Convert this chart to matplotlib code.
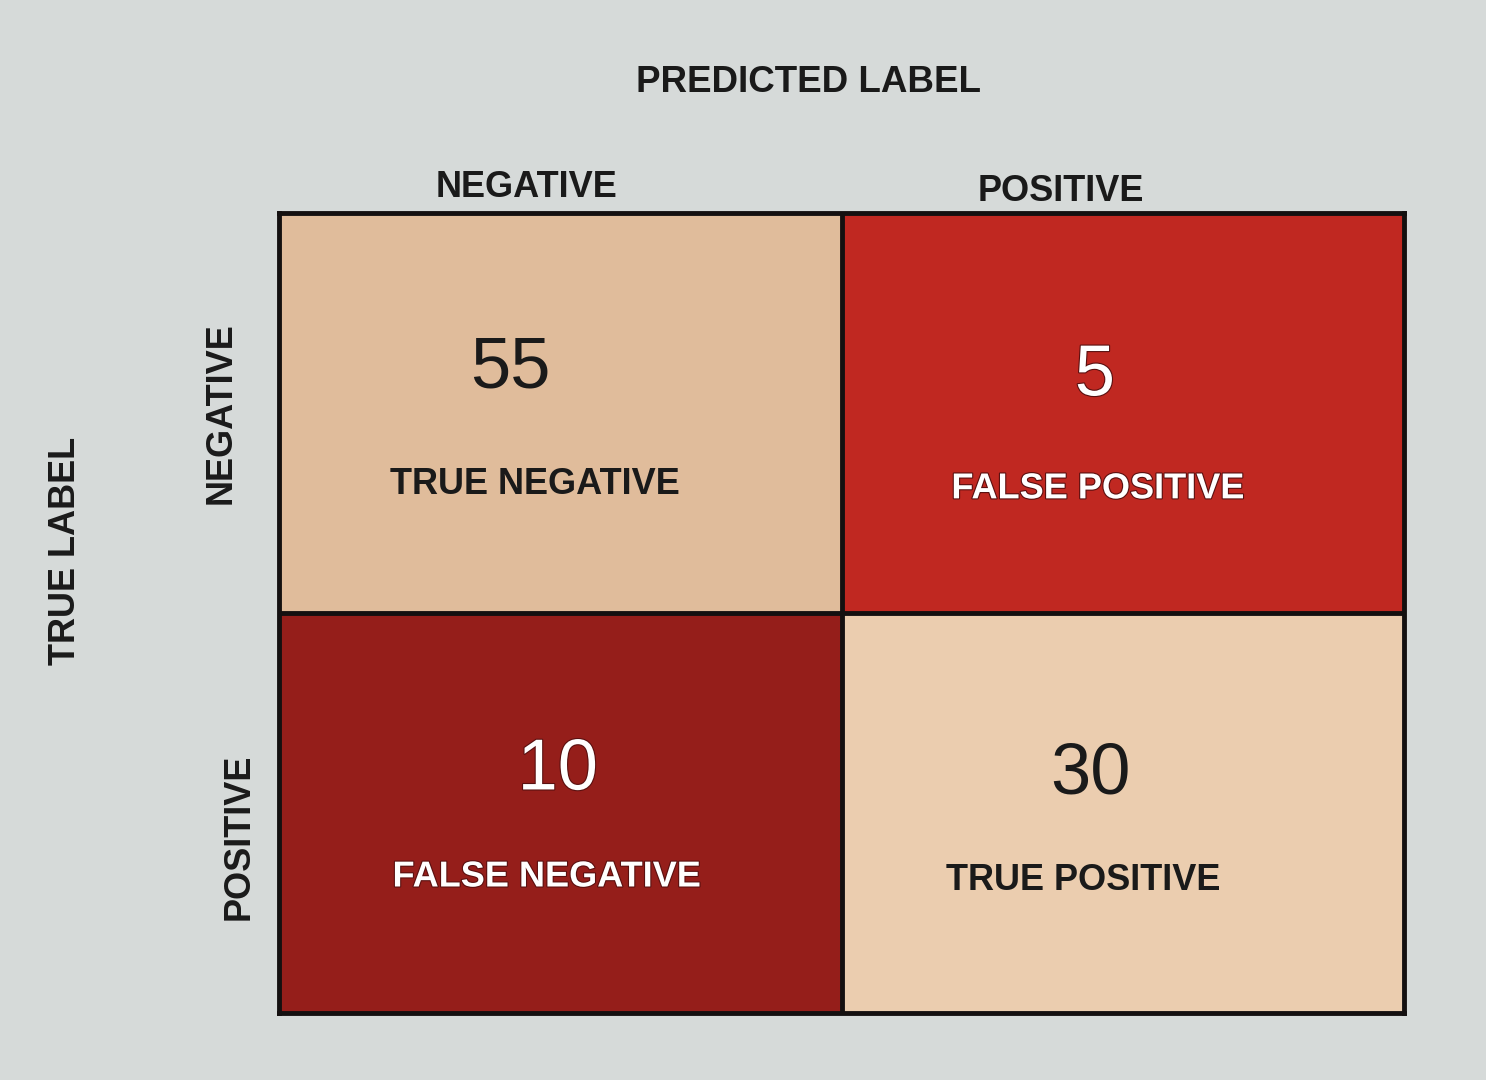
import numpy as np
import matplotlib
matplotlib.use('Agg')
import matplotlib.pyplot as plt
import matplotlib.patheffects as pe
from matplotlib.colors import ListedColormap

#--- data
classes     = ['NEGATIVE', 'POSITIVE']
counts      = [[55, 5],
               [10, 30]]
cell_names  = [['TRUE NEGATIVE', 'FALSE POSITIVE'],
               ['FALSE NEGATIVE', 'TRUE POSITIVE']]
cell_colors = ['#E0BC9B', '#C02821', '#951E1A', '#EBCDAF']
text_colors = [['#1A1A1A', '#FFFFFF'],
               ['#FFFFFF', '#1A1A1A']]

#--- small per-cell text offsets (data units) to follow the photo
num_dx = [[-0.09, -0.05], [-0.005, -0.058]]
num_dy = [[-0.11, -0.09], [-0.105, -0.095]]
lab_dx = [[-0.045, -0.045], [-0.025, -0.07]]
lab_dy = [[0.18, 0.19], [0.16, 0.17]]

plt.rcParams['font.family'] = ['Liberation Sans', 'DejaVu Sans']

bg = '#D6DAD9'
fig = plt.figure(figsize=(14.86, 10.8), dpi=100, facecolor=bg)
ax = fig.add_axes([0.188, 0.062, 0.757, 0.741])

#--- one colour per cell
idx = np.arange(4).reshape(2, 2)
ax.imshow(idx, cmap=ListedColormap(cell_colors), aspect='auto',
          extent=(-0.5, 1.5, 1.5, -0.5), vmin=-0.5, vmax=3.5)

#--- grid lines
ax.axhline(0.5, color='#141010', linewidth=3.5)
ax.axvline(0.5, color='#141010', linewidth=3.5)
for s in ax.spines.values():
    s.set_linewidth(3.5)
    s.set_color('#141010')

#--- cell text
for r in range(2):
    for c in range(2):
        tc = text_colors[r][c]
        eff = [pe.withStroke(linewidth=1.6, foreground='#5A1010')] if tc == '#FFFFFF' else []
        ax.text(c + num_dx[r][c], r + num_dy[r][c], str(counts[r][c]),
                ha='center', va='center', fontsize=52, color=tc, path_effects=eff)
        ax.text(c + lab_dx[r][c], r + lab_dy[r][c], cell_names[r][c],
                ha='center', va='center', fontsize=26, fontweight='bold',
                color=tc, path_effects=eff)

#--- class labels
ax.set_xticks([])
ax.set_yticks([])
col_x = [-0.06, 0.89]
col_y = [1.032, 1.027]
for i, lab in enumerate(classes):
    ax.text((col_x[i] + 0.5) / 2, col_y[i], lab, transform=ax.transAxes,
            ha='center', va='center', fontsize=26, fontweight='bold', color='#1A1A1A')
row_x = [-0.0515, -0.036]
row_y = [0.75, 0.22]
for i, lab in enumerate(classes):
    ax.text(row_x[i], row_y[i], lab, transform=ax.transAxes, rotation=90,
            ha='center', va='center', fontsize=26, fontweight='bold', color='#1A1A1A')

fig.text(0.544, 0.924, 'PREDICTED LABEL', ha='center', va='center',
         fontsize=26.5, fontweight='bold', color='#1A1A1A')
fig.text(0.044, 0.49, 'TRUE LABEL', ha='center', va='center', rotation=90,
         fontsize=26, fontweight='bold', color='#1A1A1A')

fig.savefig('out.png', dpi=100, facecolor=bg)
